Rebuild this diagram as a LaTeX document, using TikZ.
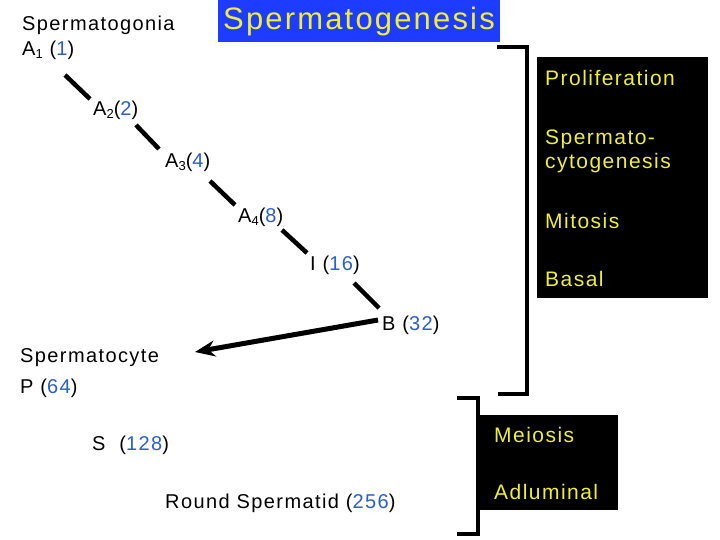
\documentclass[tikz,border=0pt]{standalone}
\usepackage{fontspec}
\setmainfont{Liberation Sans}
\newfontfamily\lsp{Liberation Sans}[LetterSpace=7]
\usetikzlibrary{arrows.meta}
\definecolor{nb}{HTML}{2B5FC8}
\definecolor{yl}{HTML}{F0F030}
\newcommand{\sbs}[1]{\raisebox{-0.35ex}{\fontsize{13}{14}\selectfont #1}}
\begin{document}
\begin{tikzpicture}[x=1pt,y=-1pt,
  lbl/.style={anchor=west,inner sep=0pt,font=\lsp\fontsize{20}{24}\selectfont},
  box/.style={anchor=west,inner sep=0pt,text=yl,font=\lsp\fontsize{21}{25}\selectfont},
  st/.style={line width=4.5pt},
  br/.style={line width=4pt}]
\useasboundingbox (0,0) rectangle (720,540);
\fill[fill=white] (0,0) rectangle (720,540);
% title
\node[fill={rgb,255:red,30;green,60;blue,255},minimum width=282pt,minimum height=42pt,inner sep=0pt,text=yl,font=\lsp\fontsize{31}{34}\selectfont] (title) at (359,21) {Spermatogenesis};
% black boxes
\fill (537,57) rectangle (708,298);
\node[box] (pro) at (545,78) {Proliferation};
\node[box,align=left] (spc) at (545,151) {Spermato-\\[-1pt]cytogenesis};
\node[box] (mit) at (545,221) {Mitosis};
\node[box] (bas) at (545,279) {Basal};
\fill (480,415) rectangle (618,510);
\node[box] (mei) at (494,435) {Meiosis};
\node[box] (adl) at (494,492) {Adluminal};
% brackets
\draw[br] (497,47) -- (527,47) -- (527,394) -- (498,394);
\draw[br] (457,398) -- (478,398) -- (478,534) -- (457,534);
% labels
\node[lbl] (sg) at (22,25) {Spermatogonia};
\node[lbl] (a1) at (22,50) {A\sbs{1} (\textcolor{nb}{1})};
\node[lbl] (a2) at (93,110) {A\sbs{2}(\textcolor{nb}{2})};
\node[lbl] (a3) at (165,162) {A\sbs{3}(\textcolor{nb}{4})};
\node[lbl] (a4) at (238,217) {A\sbs{4}(\textcolor{nb}{8})};
\node[lbl] (i) at (310,265) {I (\textcolor{nb}{16})};
\node[lbl] (b) at (382,325) {B (\textcolor{nb}{32})};
\node[lbl] (sc) at (20,358) {Spermatocyte};
\node[lbl] (p) at (20,388) {P (\textcolor{nb}{64})};
\node[lbl] (s) at (92,445) {S\ \ (\textcolor{nb}{128})};
\node[lbl] (rs) at (165,503) {Round Spermatid (\textcolor{nb}{256})};
% steps
\coordinate (c1a) at (65,75); \coordinate (c1b) at (90,99);
\coordinate (c2a) at (136,125); \coordinate (c2b) at (159,149);
\coordinate (c3a) at (210,181); \coordinate (c3b) at (235,205);
\coordinate (c4a) at (282,230); \coordinate (c4b) at (307,253);
\coordinate (c5a) at (354,283); \coordinate (c5b) at (379,308);
\draw[st] (c1a) -- (c1b);
\draw[st] (c2a) -- (c2b);
\draw[st] (c3a) -- (c3b);
\draw[st] (c4a) -- (c4b);
\draw[st] (c5a) -- (c5b);
\coordinate (arS) at (378,320); \coordinate (arE) at (195,352);
\draw[line width=5pt,-{Stealth[length=20pt,width=16pt]}] (arS) -- (arE);
\end{tikzpicture}
\end{document}
